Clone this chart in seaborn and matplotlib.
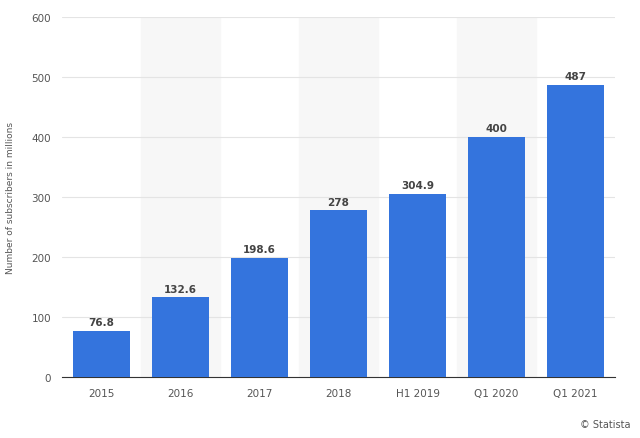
import matplotlib.pyplot as plt
import seaborn as sns
import pandas as pd

periods = ['2015', '2016', '2017', '2018', 'H1 2019', 'Q1 2020', 'Q1 2021']
subscribers = [76.8, 132.6, 198.6, 278, 304.9, 400, 487]
value_labels = ['76.8', '132.6', '198.6', '278', '304.9', '400', '487']

df = pd.DataFrame({'period': periods, 'subs': subscribers})

sns.set_style('white')
plt.rcParams['font.family'] = ['DejaVu Sans']

fig = plt.figure(figsize=(6.4, 4.39), dpi=100)
ax = fig.add_axes([0.097, 0.139, 0.864, 0.82])

# alternating background bands
for i in range(1, len(periods), 2):
    ax.axvspan(i - 0.5, i + 0.5, color='#f7f7f7', zorder=0)

sns.barplot(data=df, x='period', y='subs', color='#3474dd', width=0.72,
            saturation=1, linewidth=0, ax=ax, zorder=3)

for i, lab in enumerate(value_labels):
    ax.text(i, subscribers[i] + 6, lab, ha='center', va='bottom',
            fontsize=7.5, fontweight='bold', color='#444444')

ax.set_ylim(0, 600)
ax.set_xlim(-0.5, len(periods) - 0.5)
ax.set_yticks(range(0, 601, 100))
ax.yaxis.grid(True, color='#e4e4e4', linewidth=0.8, zorder=1)
ax.set_axisbelow(True)
for s in ['top', 'right', 'left']:
    ax.spines[s].set_visible(False)
ax.spines['bottom'].set_color('#333333')
ax.spines['bottom'].set_linewidth(0.8)
ax.tick_params(axis='both', length=0, labelsize=7.5, colors='#555555', pad=8)
ax.set_xlabel('')
ax.set_ylabel('Number of subscribers in millions', fontsize=6.5, color='#555555', labelpad=12)

fig.text(0.985, 0.02, '© Statista', ha='right', va='bottom', fontsize=7, color='#555555')

plt.savefig('out.png', dpi=100)
